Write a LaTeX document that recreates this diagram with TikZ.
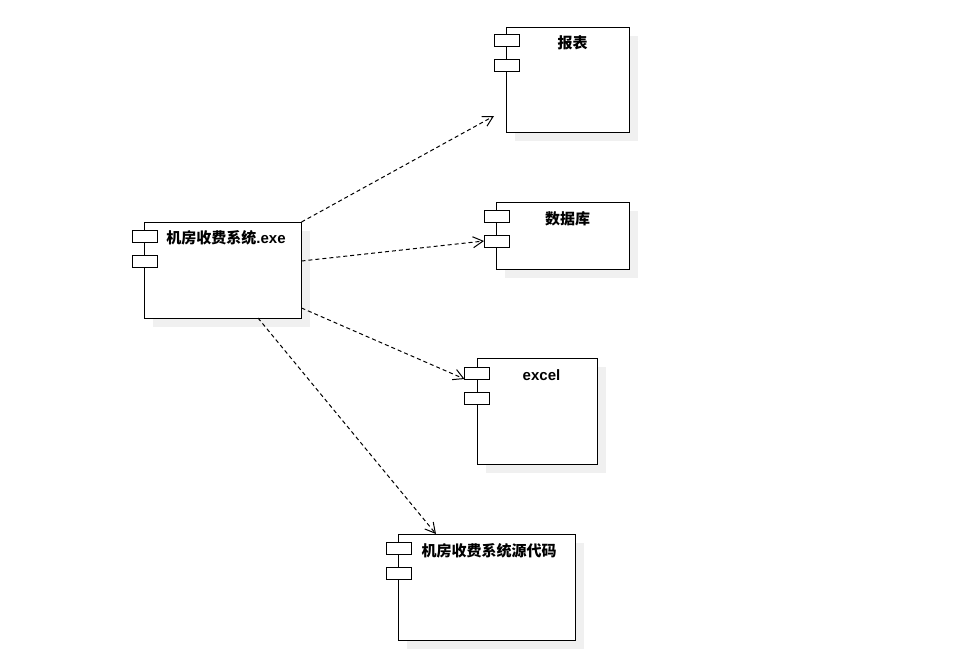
\documentclass[tikz,border=0pt]{standalone}
\usepackage{fontspec}
\setmainfont{Liberation Sans}
\newfontfamily\cjk{Noto Sans CJK SC}
\usetikzlibrary{arrows.meta}
\usetikzlibrary{shadows}
\definecolor{shadowgray}{RGB}{240,240,240}
\tikzstyle{every node}=[rectangle, inner sep=0pt, outer sep=0pt]
\tikzset{body/.style={draw, fill=white, line width=1pt, general shadow={fill=shadowgray, shadow xshift=8.5pt, shadow yshift=-8.5pt}}}
\tikzset{tab/.style={draw, fill=white, line width=1pt, minimum width=25pt, minimum height=12pt}}
\tikzset{title/.style={font=\bfseries\fontsize{15}{17}\selectfont}}
\tikzset{dep/.style={dash pattern=on 4pt off 3pt, line width=1pt, -{Straight Barb[length=10pt,width=11pt]}}}

\begin{document}
\begin{tikzpicture}[x=1pt,y=-1pt]
		\useasboundingbox (0,0) rectangle (977,667);
		% the five components
		\node[body, minimum width=157pt, minimum height=96pt] (exe) at (223,270) {};
		\node[tab] (exea) at (145,236.5) {};
		\node[tab] (exeb) at (145,261) {};
		\node[title] (exet) at (226,238) {\cjk 机房收费系统\rmfamily.exe};
		\node[body, minimum width=123.5pt, minimum height=105.5pt] (report) at (567.75,79.75) {};
		\node[tab] (reporta) at (506.5,40.5) {};
		\node[tab] (reportb) at (506.5,65) {};
		\node[title] (reportt) at (572.5,42.5) {\cjk 报表};
		\node[body, minimum width=133.5pt, minimum height=67.5pt] (db) at (562.75,235.75) {};
		\node[tab] (dba) at (496.5,216.5) {};
		\node[tab] (dbb) at (496.5,241) {};
		\node[title] (dbt) at (567.5,218.5) {\cjk 数据库};
		\node[body, minimum width=120pt, minimum height=106pt] (xls) at (537,411.5) {};
		\node[tab] (xlsa) at (477,373) {};
		\node[tab] (xlsb) at (477,398) {};
		\node[title] (xlst) at (541.5,375.5) {excel};
		\node[body, minimum width=177pt, minimum height=106pt] (src) at (487,587) {};
		\node[tab] (srca) at (398.5,548.5) {};
		\node[tab] (srcb) at (398.5,573) {};
		\node[title] (srct) at (489,550.5) {\cjk 机房收费系统源代码};
		% free ends of the arrows
		\coordinate (exer) at (301.5,261);
		\coordinate (exes) at (301.5,308);
		\coordinate (exed) at (258,318);
		\coordinate (reportin) at (494,116);
		\coordinate (srcin) at (436,534);
		\draw[dep] (exe.north east) -- (reportin);
		\draw[dep] (exer) -- (dbb.west);
		\draw[dep] (exes) -- (xlsa.south west);
		\draw[dep] (exed) -- (srcin);
		\end{tikzpicture}
\end{document}
